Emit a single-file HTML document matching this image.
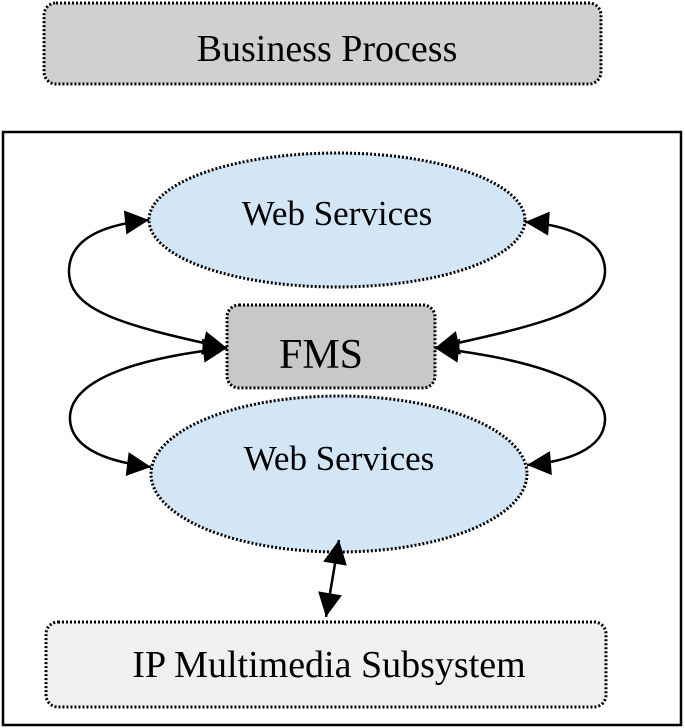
<!DOCTYPE html>
<html><head><meta charset="utf-8"><style>
html,body{margin:0;padding:0;background:#fff;}
svg{display:block;}
text{font-family:"Liberation Serif",serif;fill:#000;}
</style></head><body>
<svg width="685" height="728" viewBox="0 0 685 728" xmlns="http://www.w3.org/2000/svg">
<defs>
<marker id="a" viewBox="0 0 10 10" refX="10" refY="5" markerWidth="26" markerHeight="24" orient="auto-start-reverse" markerUnits="userSpaceOnUse">
<path d="M0,0 L10,5 L0,10 z" fill="#000"/>
</marker>
</defs>
<rect x="44" y="3" width="557" height="81" rx="12" fill="#d0d0d0" stroke="#000" stroke-width="3" stroke-dasharray="2,2"/>
<text x="327" y="61" font-size="38" text-anchor="middle">Business Process</text>
<rect x="3" y="132" width="678" height="593" fill="#fff" stroke="#000" stroke-width="2.5"/>
<ellipse cx="337" cy="220" rx="188" ry="67" fill="#d2e6f5" stroke="#000" stroke-width="3" stroke-dasharray="2,2"/>
<text x="337" y="225" font-size="35" text-anchor="middle">Web Services</text>
<ellipse cx="339" cy="474" rx="188" ry="78" fill="#d2e6f5" stroke="#000" stroke-width="3" stroke-dasharray="2,2"/>
<text x="339" y="470" font-size="35" text-anchor="middle">Web Services</text>
<rect x="227" y="305" width="208" height="83" rx="12" fill="#c8c8c8" stroke="#000" stroke-width="3" stroke-dasharray="2,2"/>
<text x="321" y="368" font-size="42" text-anchor="middle">FMS</text>
<rect x="46" y="622" width="560" height="85" rx="12" fill="#f0f0f0" stroke="#000" stroke-width="3" stroke-dasharray="2,2"/>
<text x="329" y="677" font-size="38" text-anchor="middle">IP Multimedia Subsystem</text>
<g fill="none" stroke="#000" stroke-width="2.5">
<path d="M227,348 C120,325 68,310 69,270 C70,240 100,225 149,220" marker-start="url(#a)" marker-end="url(#a)"/>
<path d="M227,348 C120,360 68,385 70,420 C72,450 110,462 151,467" marker-start="url(#a)" marker-end="url(#a)"/>
<path d="M435,348 C540,325 606,310 605,270 C604,240 570,225 525,222" marker-start="url(#a)" marker-end="url(#a)"/>
<path d="M435,348 C540,360 606,385 605,420 C604,450 565,462 527,465" marker-start="url(#a)" marker-end="url(#a)"/>
<path d="M339,540 L326,617" marker-start="url(#a)" marker-end="url(#a)"/>
</g>
</svg>
</body></html>
